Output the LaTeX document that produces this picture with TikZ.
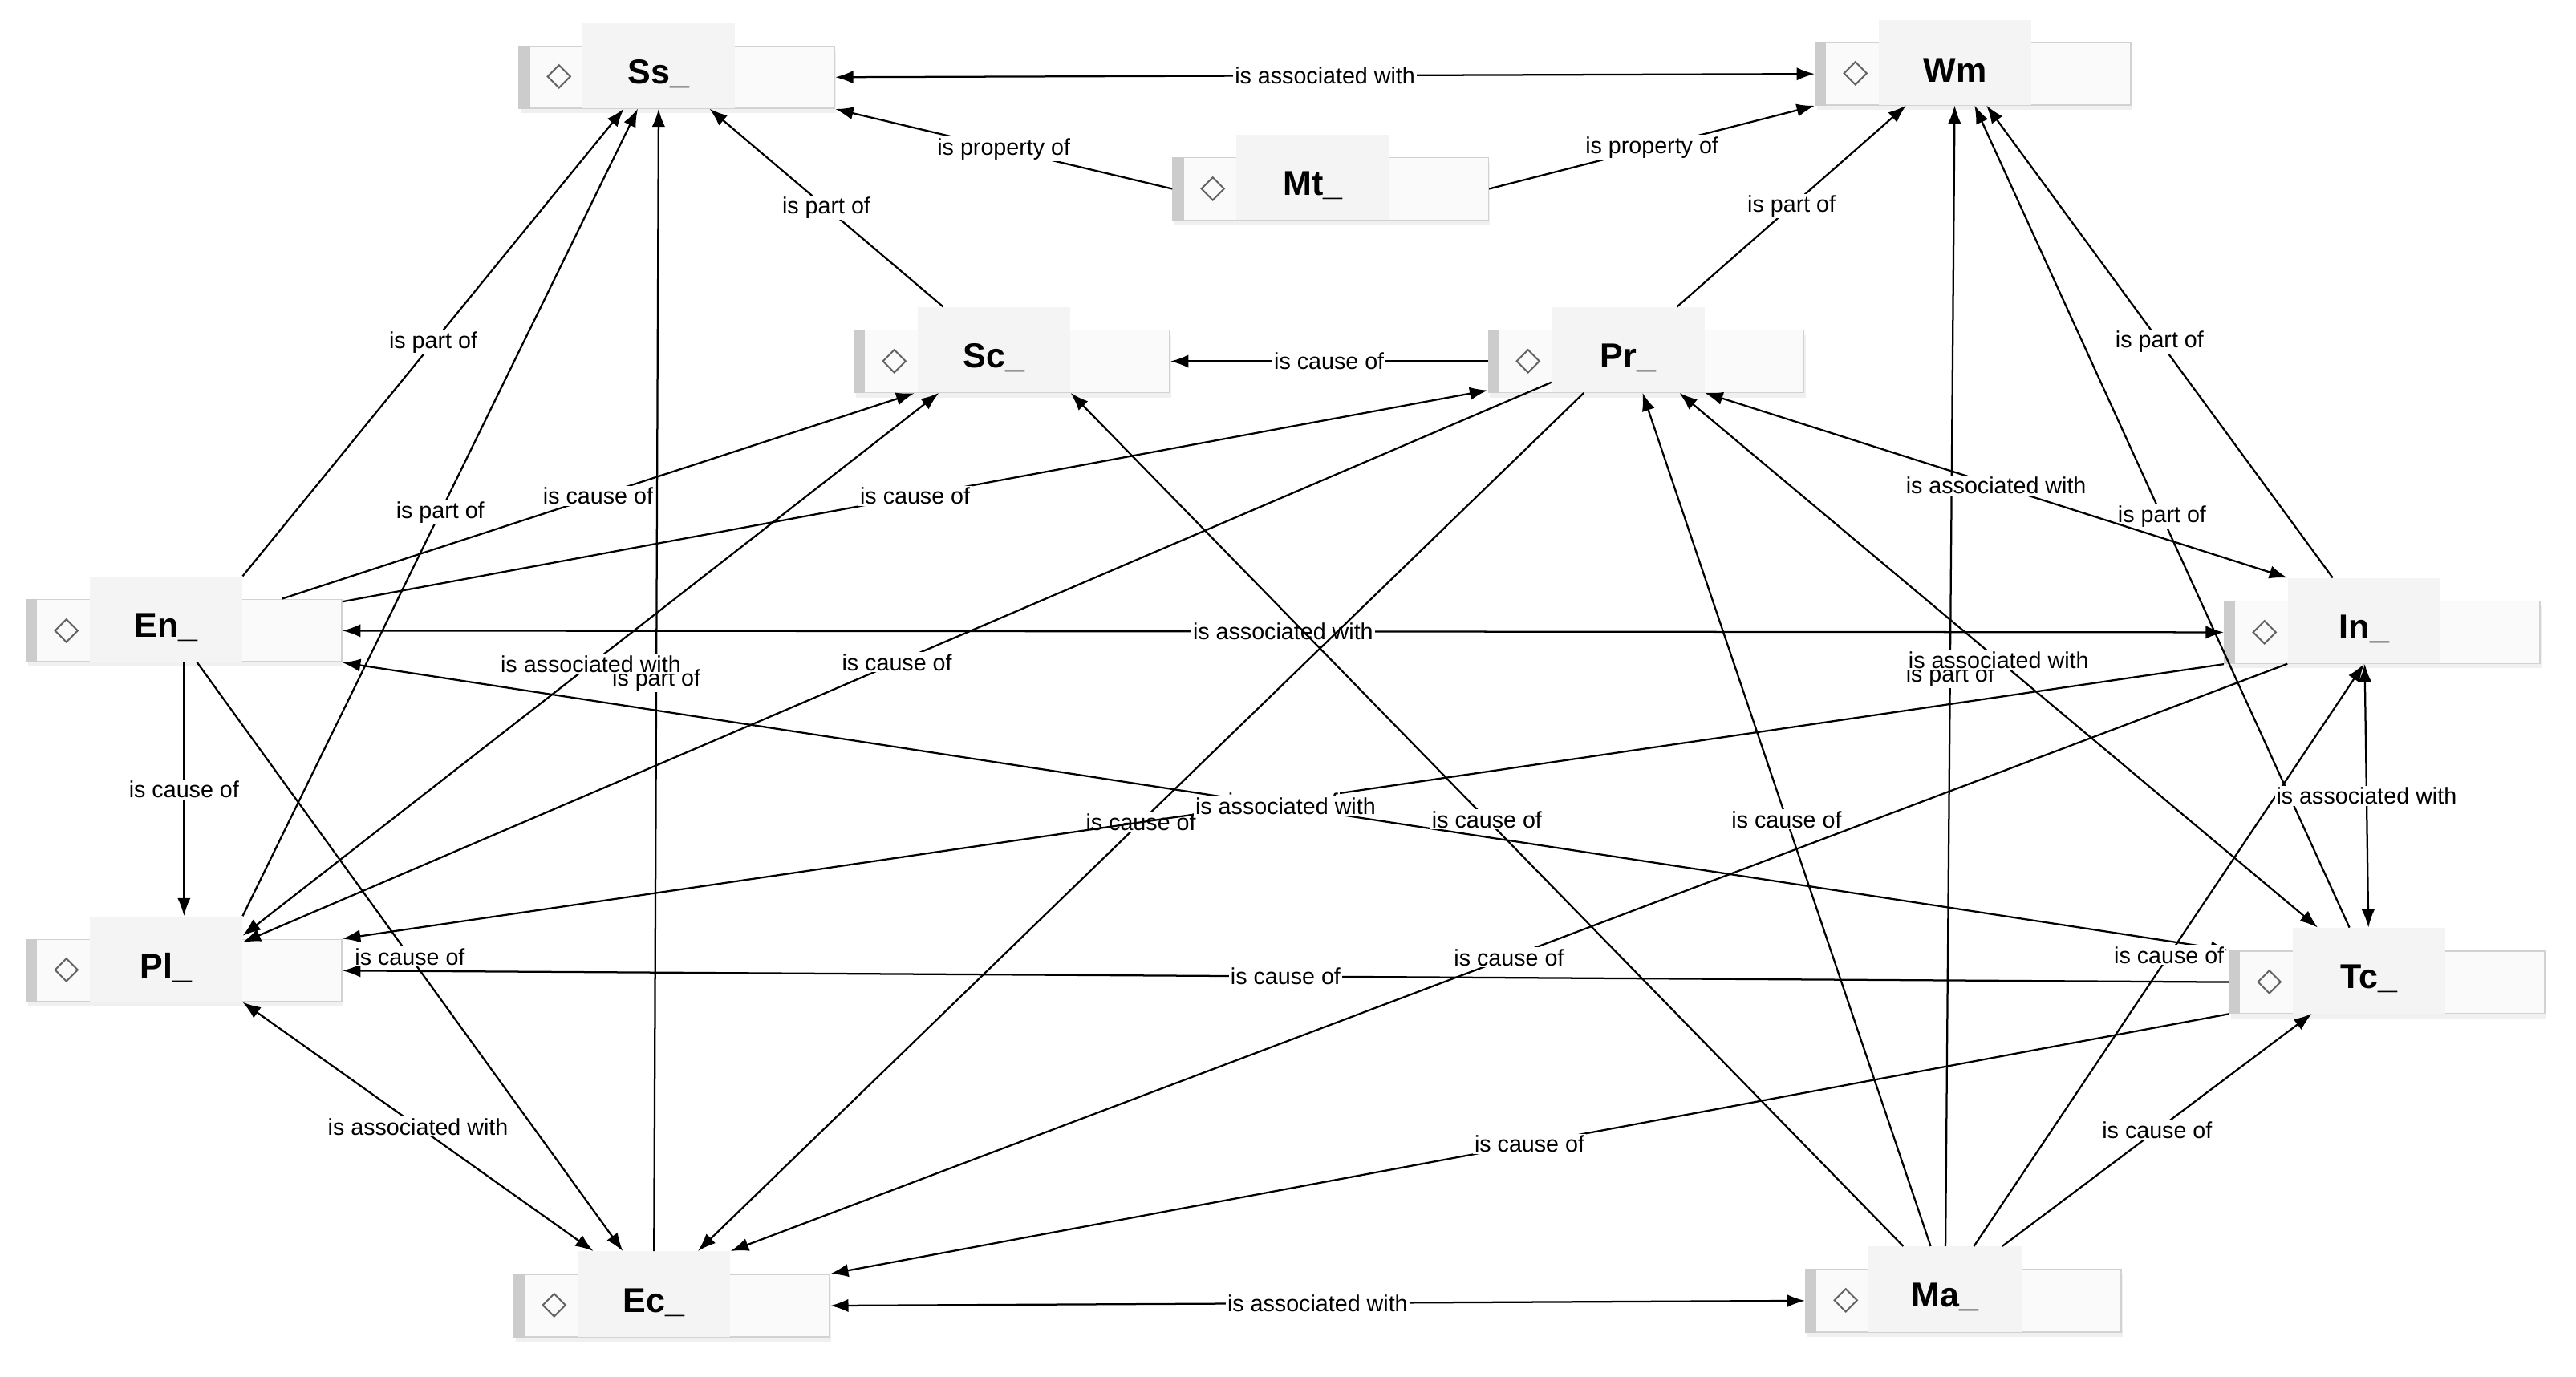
\documentclass[tikz,border=0pt]{standalone}
\usepackage{fontspec}
\setmainfont{Liberation Sans}
\newfontfamily\dejavu{DejaVu Sans}
\usetikzlibrary{arrows.meta,shadows}
\begin{document}
\begin{tikzpicture}[x=1pt,y=-1pt,
  outer/.style={draw=gray!35,fill=gray!4,minimum width=192pt,minimum height=38pt,inner sep=0pt,line width=0.8pt,drop shadow={opacity=0.12,shadow xshift=1pt,shadow yshift=-3pt}},
  lbl/.style={fill=gray!9,minimum width=93pt,minimum height=52pt,inner sep=0pt,text depth=0pt,font=\fontsize{21}{24}\selectfont\bfseries},
  el/.style={fill=white,inner sep=1pt,font=\fontsize{14}{16}\selectfont},
  a/.style={line width=1.1pt,-{Latex[length=11pt,width=8pt]}},
  ba/.style={line width=1.1pt,{Latex[length=11pt,width=8pt]}-{Latex[length=11pt,width=8pt]}}]
\useasboundingbox (0,0) rectangle (1568,838);
\newcommand\ent[4]{%
  \node[outer] (#1-o) at (#2,#3) {};
  \fill[gray!40] (#1-o.north west) rectangle ([xshift=7pt]#1-o.south west);
  \node[font=\dejavu\fontsize{20}{20}\selectfont,text=gray!75!black] (#1-d) at ([xshift=25pt]#1-o.west) {◇};
  \node[lbl] (#1) at ([xshift=-11pt,yshift=7pt]#1-o.center) {};
  \node[font=\fontsize{21}{24}\selectfont\bfseries] (#1-t) at ([xshift=-11pt,yshift=2pt]#1-o.center) {#4};}
\ent{Ss}{412}{47}{Ss\_}
\ent{Wm}{1201}{45}{Wm}
\ent{Mt}{810}{115}{Mt\_}
\ent{Sc}{616}{220}{Sc\_}
\ent{Pr}{1002}{220}{Pr\_}
\ent{En}{112}{384}{En\_}
\ent{In}{1450}{385}{In\_}
\ent{Pl}{112}{591}{Pl\_}
\ent{Tc}{1453}{598}{Tc\_}
\ent{Ec}{409}{795}{Ec\_}
\ent{Ma}{1195}{792}{Ma\_}

\draw[ba] (Ss-o.east) -- node[el]{is associated with} (Wm-o.west);
\draw[a] (Mt-o.west) -- node[el]{is property of} (Ss-o.south east);
\draw[a] (Mt-o.east) -- node[el]{is property of} (Wm-o.south west);
\draw[a] (Sc) -- node[el]{is part of} (Ss);
\draw[a] (Pr) -- node[el]{is part of} (Wm);
\draw[a] (Pr-o.west) -- node[el]{is cause of} (Sc-o.east);
\draw[a] (En.north east) -- node[el]{is part of} (Ss);
\draw[a] (Pl.north east) -- node[el,pos=0.5]{is part of} (Ss);
\draw[a] (Ec) -- node[el]{is part of} (Ss);
\draw[a] (En-o) -- node[el]{is cause of} (Sc-o);
\draw[a] (En-o) -- node[el]{is cause of} (Pr-o);
\draw[ba] (En-o.east) -- node[el]{is associated with} (In-o.west);
\draw[a] (En-o.south) -- node[el]{is cause of} (Pl-o.south |- Pl.north);
\draw[ba] ([yshift=-12pt]Pl.north east) -- node[el]{is associated with} (Sc);
\draw[a] (Pr) -- node[el]{is cause of} ([yshift=-16pt]Pl.north east);
\draw[a] (Pr) -- node[el]{is cause of} (Ec);
\draw[a] (In-o.south west) -- node[el]{is cause of} (Pl-o.north east);
\draw[ba] (Tc-o.north west) -- node[el]{is associated with} (En-o.south east);
\draw[a] (Ma) -- node[el]{is cause of} (Sc.south east);
\draw[a] (Ma) -- node[el]{is cause of} (Pr);
\draw[a] (Ma) -- node[el]{is part of} (Wm);
\draw[a] (Ma) -- node[el]{is cause of} (In.south);
\draw[a] (Ma) -- node[el]{is cause of} (Tc);
\draw[a] (In) -- node[el]{is part of} (Wm);
\draw[a] (Tc) -- node[el]{is part of} (Wm);
\draw[ba] (Pr.south east) -- node[el]{is associated with} (In.north west);
\draw[ba] (Pr) -- node[el]{is associated with} (Tc);
\draw[ba] (In) -- node[el]{is associated with} (Tc);
\draw[a] (Tc-o.west) -- node[el]{is cause of} (Pl-o.east);
\draw[a] (Tc-o.south west) -- node[el]{is cause of} (Ec-o.north east);
\draw[a] (In.south west) -- node[el]{is cause of} (Ec.north east);
\draw[a] (En) -- node[el]{is cause of} (Ec);
\draw[ba] (Pl.south east) -- node[el]{is associated with} (Ec);
\draw[ba] (Ec-o.east) -- node[el]{is associated with} (Ma-o.west);
\end{tikzpicture}
\end{document}
